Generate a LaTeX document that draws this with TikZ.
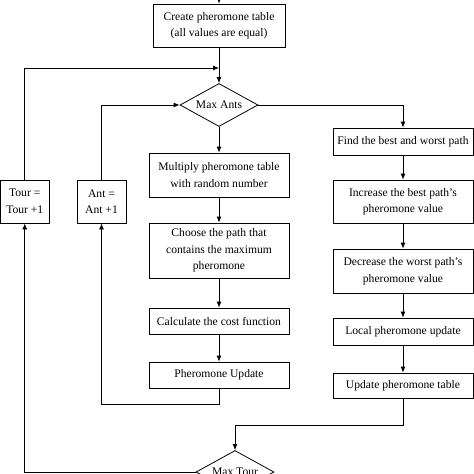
\documentclass[tikz,border=0pt]{standalone}
\usepackage{fontspec}
\setmainfont{Liberation Serif}
\usetikzlibrary{shapes.geometric,arrows.meta}

\begin{document}
\begin{tikzpicture}[x=1pt, y=-1pt,
every node/.style={font=\fontsize{11.6}{16.5}\selectfont, align=center, inner sep=1pt},
box/.style 2 args={draw, rectangle, line width=0.8pt, minimum width=#1, minimum height=#2},
decision/.style={draw, diamond, aspect=1.8, line width=0.8pt, minimum width=78pt, minimum height=43pt, inner sep=0pt},
flow/.style={line width=0.8pt, -{Latex[length=6pt,width=5pt]}}
]
\useasboundingbox (0,0) rectangle (474,474);
\clip (0,0) rectangle (474,474);

% middle column
\node[box={132}{43}] (create) at (219,25.5) {Create pheromone table\\(all values are equal)};
\node[decision] (ants) at (219,105) {Max Ants};
\node[box={140}{44}] (mult) at (219,175) {Multiply pheromone table\\with random number};
\node[box={140}{55}] (choose) at (219,250.5) {Choose the path that\\contains the maximum\\pheromone};
\node[box={140}{26}] (cost) at (219,321) {Calculate the cost function};
\node[box={140}{26}] (pupd) at (219,375) {Pheromone Update};

% counters
\node[box={49}{43}] (ant) at (101.5,201.5) {Ant =\\Ant +1};
\node[box={48.5}{43}] (tour) at (24.75,201.5) {Tour =\\Tour +1};

% right column
\node[box={140}{27}] (find) at (403,141.5) {Find the best and worst path};
\node[box={140}{43}] (incr) at (403,201.5) {Increase the best path's\\pheromone value};
\node[box={140}{44}] (decr) at (403,271) {Decrease the worst path's\\pheromone value};
\node[box={140}{27}] (local) at (403,331.5) {Local pheromone update};
\node[box={140}{25}] (table) at (403,385.5) {Update pheromone table};

\node[decision] (tours) at (235,472) {Max Tour};

\coordinate (start) at (219,-4);
\coordinate (join) at (219,68);

\foreach \a/\b in {start/create, create/ants, ants/mult, mult/choose, choose/cost, cost/pupd,
                   find/incr, incr/decr, decr/local, local/table}
    \draw[flow] (\a) -- (\b);

\draw[flow] (pupd.south) -- ++(0,16) -| (ant.south);
\draw[flow] (ant.north) |- (ants.west);
\draw[flow] (ants.east) -| (find.north);
\draw[flow] (table.south) -- ++(0,27) -| (tours.north);
\draw[flow] (tours.west) -| (tour.south);
\draw[flow] (tour.north) |- (join);
\end{tikzpicture}
\end{document}
